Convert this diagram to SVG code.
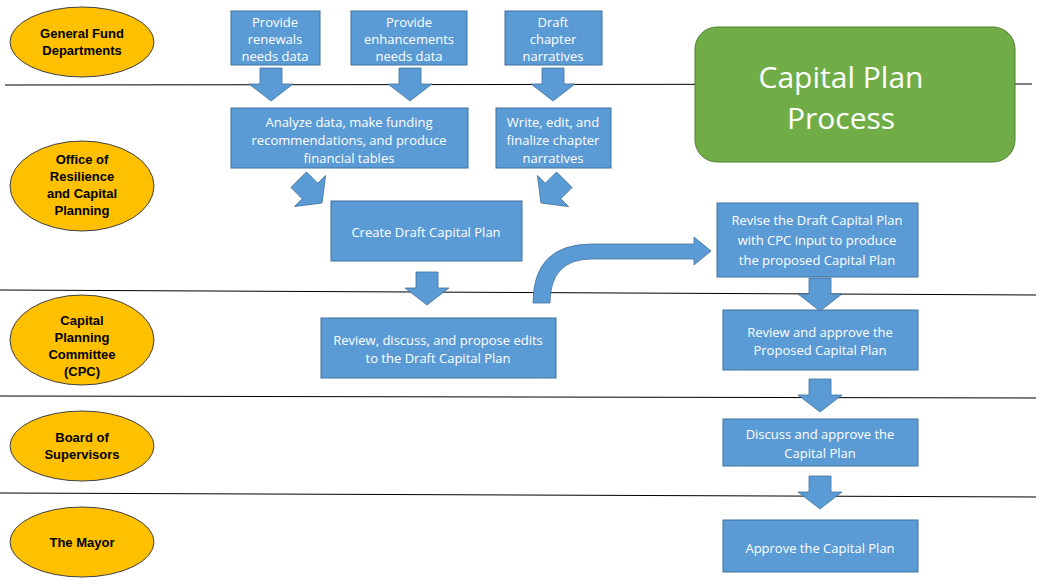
<svg xmlns="http://www.w3.org/2000/svg" xmlns:xlink="http://www.w3.org/1999/xlink" width="1040" height="585" viewBox="0 0 1040 585">
<style>
.b{fill:#5B9BD5;stroke:#41719C;stroke-width:1}
.t{font-family:"Open Sans","Liberation Sans",sans-serif;font-size:13px;fill:#fff;text-anchor:middle}
.e{fill:#FFC000;stroke:#3F3F3F;stroke-width:1}
.et{font-family:"Liberation Sans",Arial,sans-serif;font-size:13px;font-weight:bold;fill:#000;text-anchor:middle}
.l{stroke:#000;stroke-width:1}
.a{fill:#5B9BD5;stroke:#41719C;stroke-width:0.8}
</style>
<defs>
<polygon id="da" points="-11,-16 11,-16 11,0 22,0 0,17 -22,0 -11,0" class="a"/>
</defs>
<rect width="1040" height="585" fill="#fff"/>
<g id="lanes">
<line class="l" x1="5" y1="85" x2="1032" y2="84"/>
<line class="l" x1="0" y1="290" x2="1036" y2="295"/>
<line class="l" x1="0" y1="396" x2="1036" y2="398"/>
<line class="l" x1="0" y1="493" x2="1036" y2="497"/>
</g>
<g id="gfd"><ellipse class="e" cx="82" cy="42" rx="72" ry="35"/><text class="et" x="82" y="38">General Fund</text><text class="et" x="82" y="55">Departments</text></g>
<g id="orcp"><ellipse class="e" cx="82" cy="186" rx="72" ry="45"/><text class="et" x="82" y="164">Office of</text><text class="et" x="82" y="181">Resilience</text><text class="et" x="82" y="198">and Capital</text><text class="et" x="82" y="215">Planning</text></g>
<g id="cpc"><ellipse class="e" cx="82" cy="340" rx="72" ry="45"/><text class="et" x="82" y="325">Capital</text><text class="et" x="82" y="342">Planning</text><text class="et" x="82" y="359">Committee</text><text class="et" x="82" y="376">(CPC)</text></g>
<g id="bos"><ellipse class="e" cx="82" cy="446" rx="72" ry="35"/><text class="et" x="82" y="442">Board of</text><text class="et" x="82" y="459">Supervisors</text></g>
<g id="mayor"><ellipse class="e" cx="82" cy="542" rx="72" ry="35"/><text class="et" x="82" y="547">The Mayor</text></g>
<g id="title"><rect x="695" y="27" width="320" height="135" rx="22" fill="#70AD47" stroke="#507E32"/><text x="841" y="88" font-family="'Open Sans','Liberation Sans',sans-serif" font-size="30" fill="#fff" text-anchor="middle">Capital Plan</text><text x="841" y="129" font-family="'Open Sans','Liberation Sans',sans-serif" font-size="30" fill="#fff" text-anchor="middle">Process</text></g>
<g id="n1"><rect class="b" x="231" y="11" width="89" height="54"/><text class="t" x="275" y="27">Provide</text><text class="t" x="275" y="44">renewals</text><text class="t" x="275" y="61">needs data</text></g>
<g id="n2"><rect class="b" x="351" y="11" width="116" height="54"/><text class="t" x="409" y="27">Provide</text><text class="t" x="409" y="44">enhancements</text><text class="t" x="409" y="61">needs data</text></g>
<g id="n3"><rect class="b" x="505" y="11" width="97" height="54"/><text class="t" x="553" y="27">Draft</text><text class="t" x="553" y="44">chapter</text><text class="t" x="553" y="61">narratives</text></g>
<g id="n4"><rect class="b" x="231" y="108" width="237" height="60"/><text class="t" x="349" y="127">Analyze data, make funding</text><text class="t" x="349" y="145">recommendations, and produce</text><text class="t" x="349" y="163">financial tables</text></g>
<g id="n5"><rect class="b" x="496" y="108" width="115" height="60"/><text class="t" x="553" y="127">Write, edit, and</text><text class="t" x="553" y="145">finalize chapter</text><text class="t" x="553" y="163">narratives</text></g>
<g id="n6"><rect class="b" x="331" y="201" width="191" height="60"/><text class="t" x="426" y="237" font-size="14">Create Draft Capital Plan</text></g>
<g id="n7"><rect class="b" x="717" y="203" width="201" height="74"/><text class="t" x="817" y="225">Revise the Draft Capital Plan</text><text class="t" x="817" y="245">with CPC input to produce</text><text class="t" x="817" y="265">the proposed Capital Plan</text></g>
<g id="n8"><rect class="b" x="321" y="318" width="235" height="60"/><text class="t" x="438" y="345">Review, discuss, and propose edits</text><text class="t" x="438" y="363">to the Draft Capital Plan</text></g>
<g id="n9"><rect class="b" x="723" y="310" width="195" height="60"/><text class="t" x="820" y="337">Review and approve the</text><text class="t" x="820" y="355">Proposed Capital Plan</text></g>
<g id="n10"><rect class="b" x="723" y="419" width="195" height="47"/><text class="t" x="820" y="439" font-size="14">Discuss and approve the</text><text class="t" x="820" y="458" font-size="14">Capital Plan</text></g>
<g id="n11"><rect class="b" x="723" y="520" width="195" height="52"/><text class="t" x="820" y="553" font-size="14">Approve the Capital Plan</text></g>
<g id="connectors">
<use xlink:href="#da" transform="translate(271,84)"/>
<use xlink:href="#da" transform="translate(410,84)"/>
<use xlink:href="#da" transform="translate(553,84)"/>
<use xlink:href="#da" transform="translate(310,191) rotate(-45)"/>
<use xlink:href="#da" transform="translate(553,191) rotate(45)"/>
<use xlink:href="#da" transform="translate(427,288)"/>
<use xlink:href="#da" transform="translate(820,294)"/>
<use xlink:href="#da" transform="translate(820,395)"/>
<use xlink:href="#da" transform="translate(820,492)"/>
<path class="a" d="M533 303 Q533 244 592 244 L694 244 L694 237 L711 251 L694 265 L694 259 L592 259 Q550 259 550 303 Z"/>
</g>
</svg>
